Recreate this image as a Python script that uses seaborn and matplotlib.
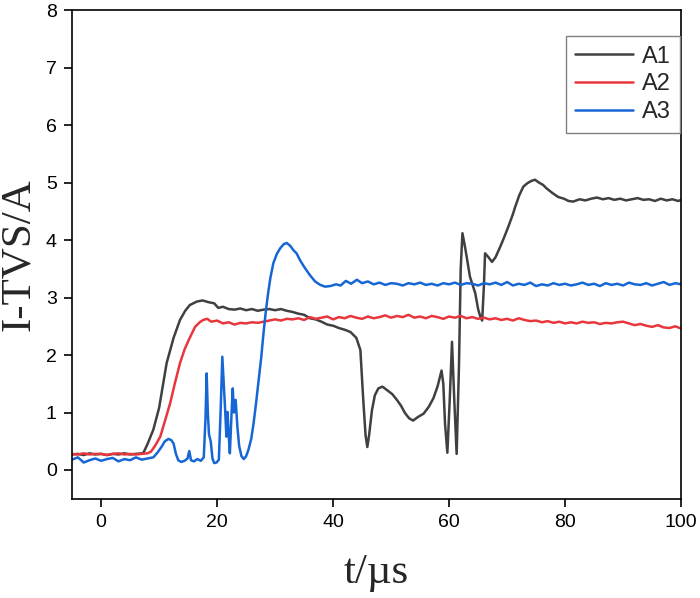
import matplotlib
matplotlib.use("Agg")
import matplotlib.pyplot as plt
import pandas as pd
import seaborn as sns


# A1 (黑)
t_a1 = [
    -5, -4, -3, -2, -1, 0, 1, 2, 3, 4, 5, 6, 7, 7.3,
    8.0, 9.0, 10.0, 11.3, 12.5, 13.6, 14.5, 15.3, 16.5, 17.5, 18.5, 19.5,
    20.2, 21, 22, 23, 24, 25, 26, 27, 28, 29, 30, 31, 32, 33, 34, 35, 36,
    37, 38, 39, 40, 41, 42, 43, 44, 44.7, 45.2, 45.6, 45.9, 46.2, 46.7,
    47.2, 47.8, 48.5, 49.3, 50.2, 51.0, 51.7, 52.4, 53.1, 53.8, 54.6,
    55.6, 56.5, 57.3, 58.0, 58.7, 59.0, 59.3, 59.7, 60.1, 60.5, 60.9,
    61.3, 61.7, 62.0, 62.3, 62.8, 63.6, 64.5, 65.0, 65.4, 65.7, 66.0,
    66.2, 66.8, 67.4, 68.0, 68.8, 69.5, 70.2, 71.0, 71.4, 72.1, 72.8,
    73.5, 74.2, 74.8, 75.5, 76.2, 76.8, 77.8, 78.8, 79.8, 80.6, 81.4,
    82.5, 83.5, 84.5, 85.5, 86.5, 87.5, 88.5, 89.5, 90.5, 91.5, 92.5,
    93.5, 94.5, 95.5, 96.5, 97.5, 98.5, 99.5, 100,
]
i_a1 = [
    0.27, 0.28, 0.26, 0.29, 0.27, 0.28, 0.26, 0.28, 0.27, 0.29, 0.27, 0.28, 0.29, 0.30,
    0.45, 0.70, 1.08, 1.86, 2.30, 2.61, 2.77, 2.87, 2.93, 2.95, 2.92, 2.90,
    2.82, 2.84, 2.80, 2.79, 2.81, 2.78, 2.80, 2.77, 2.79, 2.80, 2.78, 2.80, 2.77, 2.75, 2.72, 2.70, 2.64,
    2.62, 2.58, 2.53, 2.51, 2.47, 2.44, 2.40, 2.30, 2.09, 1.22, 0.60, 0.40, 0.60, 1.04,
    1.30, 1.42, 1.45, 1.39, 1.32, 1.22, 1.12, 0.99, 0.90, 0.86, 0.92,
    0.98, 1.10, 1.25, 1.45, 1.73, 1.50, 0.80, 0.30, 1.20, 2.23, 1.20,
    0.28, 1.80, 3.50, 4.12, 3.85, 3.36, 3.08, 2.80, 2.66, 2.60, 3.20,
    3.77, 3.70, 3.62, 3.70, 3.88, 4.05, 4.23, 4.45, 4.58, 4.78, 4.93,
    4.99, 5.03, 5.05, 5.00, 4.96, 4.90, 4.82, 4.75, 4.72, 4.68, 4.67,
    4.71, 4.69, 4.72, 4.74, 4.71, 4.73, 4.70, 4.72, 4.69, 4.71, 4.73,
    4.70, 4.71, 4.68, 4.72, 4.69, 4.71, 4.68, 4.70,
]

# A2 (红)
t_a2 = [
    -5, -4, -3, -2, -1, 0, 1, 2, 3, 4, 5, 6, 7, 8,
    8.6, 9.3, 10.2, 11.0, 11.9, 12.7, 13.6, 14.4, 15.1, 16.2, 17.0, 17.6,
    18.3, 19.0, 20, 21, 22, 23, 24, 25, 26, 27, 28, 29, 30, 31, 32, 33, 34,
    35, 36, 37, 38, 39, 40, 41, 42, 43, 44, 45, 46, 47, 48, 49, 50, 51, 52,
    53, 54, 55, 56, 57, 58, 59, 60, 61, 62, 63, 64, 65, 66, 67, 68, 69, 70,
    71, 72, 73, 74, 75, 76, 77, 78, 79, 80, 81, 82, 83, 84, 85, 86, 87, 88,
    89, 90, 91, 92, 93, 94, 95, 96, 97, 98, 99, 100,
]
i_a2 = [
    0.28, 0.27, 0.29, 0.27, 0.28, 0.28, 0.26, 0.28, 0.29, 0.27, 0.28, 0.27, 0.28, 0.29,
    0.32, 0.42, 0.58, 0.85, 1.16, 1.50, 1.86, 2.10, 2.26, 2.49, 2.57, 2.61,
    2.63, 2.58, 2.60, 2.55, 2.57, 2.53, 2.56, 2.55, 2.57, 2.56, 2.58, 2.60, 2.62, 2.60, 2.63, 2.62, 2.64,
    2.61, 2.66, 2.63, 2.65, 2.67, 2.62, 2.66, 2.64, 2.68, 2.65, 2.63, 2.67, 2.64, 2.66, 2.69, 2.65, 2.68, 2.66,
    2.70, 2.65, 2.67, 2.64, 2.68, 2.66, 2.63, 2.67, 2.65, 2.68, 2.64, 2.66, 2.63, 2.65, 2.62, 2.64, 2.61, 2.63,
    2.60, 2.64, 2.61, 2.59, 2.60, 2.57, 2.59, 2.56, 2.58, 2.55, 2.57, 2.55, 2.58, 2.56, 2.57, 2.54, 2.56, 2.55,
    2.57, 2.58, 2.55, 2.52, 2.54, 2.51, 2.49, 2.52, 2.48, 2.47, 2.50, 2.46,
]

# A3 (蓝)
t_a3 = [
    -5, -4, -3, -2, -1, 0, 1, 2, 3, 4, 5, 6, 7, 8,
    9.0, 9.7, 10.4, 11.0, 11.6, 12.1, 12.5, 12.9, 13.3, 13.8, 14.4, 14.9,
    15.2, 15.5, 16.0, 16.6, 17.2, 17.7, 18.0, 18.2, 18.4, 18.6, 18.9, 19.2,
    19.5, 19.9, 20.3, 20.6, 20.9, 21.2, 21.4, 21.6, 21.8, 22.0, 22.2, 22.5,
    22.7, 22.9, 23.2, 23.5, 23.8, 24.2, 24.6, 25.0, 25.4, 25.9, 26.3, 26.7,
    27.1, 27.6, 28.0, 28.4, 28.8, 29.2, 29.7, 30.3, 30.9, 31.5, 32.0, 32.6,
    33.2, 33.7, 34.3, 35.1, 36.0, 36.9, 37.8, 38.6, 39.5, 40.5, 41.3, 42.2,
    43.1, 44.1, 45, 46, 47, 48, 49, 50, 51, 52, 53, 54, 55, 56, 57, 58, 59,
    60, 61, 62, 63, 64, 65, 66, 67, 68, 69, 70, 71, 72, 73, 74, 75, 76, 77,
    78, 79, 80, 81, 82, 83, 84, 85, 86, 87, 88, 89, 90, 91, 92, 93, 94, 95,
    96, 97, 98, 99, 100,
]
i_a3 = [
    0.18, 0.22, 0.13, 0.17, 0.20, 0.16, 0.19, 0.21, 0.15, 0.19, 0.17, 0.22, 0.18, 0.20,
    0.22, 0.30, 0.40, 0.50, 0.54, 0.52, 0.46, 0.28, 0.17, 0.14, 0.16, 0.20,
    0.33, 0.17, 0.15, 0.19, 0.16, 0.22, 0.90, 1.68, 1.00, 0.62, 0.50, 0.20,
    0.12, 0.13, 0.18, 1.00, 1.97, 1.40, 1.02, 0.58, 1.01, 0.60, 0.29, 1.00,
    1.42, 1.00, 1.22, 0.75, 0.42, 0.24, 0.19, 0.24, 0.35, 0.55, 0.82, 1.15,
    1.51, 1.95, 2.38, 2.76, 3.08, 3.35, 3.60, 3.76, 3.86, 3.93, 3.95, 3.90,
    3.82, 3.77, 3.65, 3.52, 3.39, 3.28, 3.22, 3.19, 3.20, 3.23, 3.21, 3.29,
    3.24, 3.31, 3.25, 3.28, 3.23, 3.26, 3.22, 3.25, 3.24, 3.21, 3.25, 3.23, 3.26, 3.22, 3.24, 3.21, 3.25,
    3.23, 3.26, 3.22, 3.25, 3.24, 3.21, 3.25, 3.23, 3.26, 3.22, 3.27, 3.21, 3.24, 3.22, 3.26, 3.20, 3.23, 3.21,
    3.25, 3.22, 3.24, 3.21, 3.23, 3.26, 3.22, 3.24, 3.20, 3.25, 3.22, 3.24, 3.21, 3.26, 3.23, 3.22, 3.25, 3.21,
    3.24, 3.27, 3.22, 3.25, 3.23,
]

series_names = ["A1", "A2", "A3"]
series_colors = ["#404040", "#e8373c", "#1766d6"]

sns.set_theme(style="ticks")
plt.rcParams["font.family"] = ["Liberation Sans", "DejaVu Sans"]

df = pd.concat([
    pd.DataFrame({"t": t_a1, "I": i_a1, "series": "A1"}),
    pd.DataFrame({"t": t_a2, "I": i_a2, "series": "A2"}),
    pd.DataFrame({"t": t_a3, "I": i_a3, "series": "A3"}),
], ignore_index=True)

fig = plt.figure(figsize=(7, 5.98), dpi=100)
ax = fig.add_axes([0.103, 0.166, 0.870, 0.817])

sns.lineplot(
    data=df,
    x="t",
    y="I",
    hue="series",
    hue_order=series_names,
    palette=dict(zip(series_names, series_colors)),
    estimator=None,
    sort=False,
    linewidth=1.8,
    ax=ax,
)

ax.set_xlim(-5, 100)
ax.set_ylim(-0.5, 8)
ax.set_xticks([0, 20, 40, 60, 80, 100])
ax.set_yticks(range(0, 9))

for side in ["top", "right", "left", "bottom"]:
    ax.spines[side].set_visible(True)
    ax.spines[side].set_linewidth(1.2)
    ax.spines[side].set_color("black")
ax.tick_params(direction="out", length=6, width=1.2, labelsize=14,
               colors="black", pad=5, top=False, right=False)

serif = ["Liberation Serif", "DejaVu Serif"]
ax.set_xlabel("t/µs", fontsize=31, family=serif)
ax.set_ylabel("I-TVS/A", fontsize=31, family=serif)
ax.xaxis.set_label_coords(0.5, -0.113)
ax.yaxis.set_label_coords(-0.056, 0.5)

leg = ax.legend(
    loc="upper right",
    bbox_to_anchor=(0.998, 0.947),
    borderaxespad=0,
    fontsize=17,
    handlelength=2.45,
    handletextpad=0.35,
    labelspacing=0.25,
    borderpad=0.4,
    fancybox=False,
    framealpha=1,
    title=None,
)
leg.get_frame().set_edgecolor("#808080")
leg.get_frame().set_linewidth(1.0)

plt.savefig("out.png", dpi=100)
